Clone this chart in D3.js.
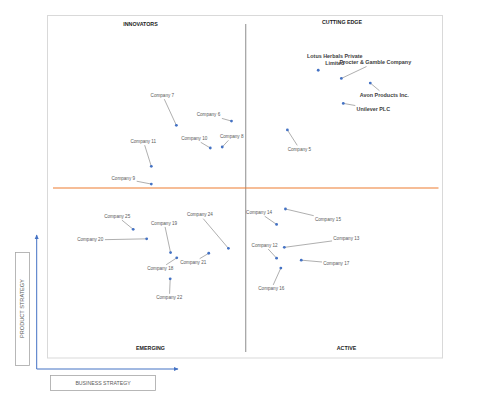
<!DOCTYPE html>
<html>
<head>
<meta charset="utf-8">
<script src="https://cdn.jsdelivr.net/npm/d3@7"></script>
<style>
  body { margin: 0; background: #fff; }
  text { font-family: "Liberation Sans", Arial, sans-serif; }
</style>
</head>
<body>
<div id="chart"></div>
<script>
// companies and their (business strategy, product strategy) scores, 0..10
const companies = ["Lotus Herbals Private Limited", "Procter & Gamble Company", "Avon Products Inc.", "Unilever PLC",
  "Company 5", "Company 6", "Company 7", "Company 8", "Company 9", "Company 10", "Company 11",
  "Company 12", "Company 13", "Company 14", "Company 15", "Company 16", "Company 17",
  "Company 18", "Company 19", "Company 20", "Company 21", "Company 22", "Company 24", "Company 25"];
const businessScore = [6.88, 7.48, 8.23, 7.53,
  6.08, 4.63, 3.20, 4.39, 2.55, 4.08, 2.55,
  5.80, 6.00, 5.80, 6.03, 5.91, 6.44,
  3.21, 3.05, 2.43, 4.04, 3.04, 4.55, 2.08];
const productScore = [8.59, 8.34, 8.20, 7.58,
  6.77, 7.04, 6.91, 6.25, 5.12, 6.22, 5.66,
  2.86, 3.19, 3.89, 4.36, 2.56, 2.80,
  2.87, 3.03, 3.45, 3.01, 2.23, 3.16, 3.74];
const majorPlayers = ["Lotus Herbals Private Limited", "Procter & Gamble Company", "Avon Products Inc.", "Unilever PLC"];
const quadrantLabels = ["INNOVATORS", "CUTTING EDGE", "EMERGING", "ACTIVE"];
const axisTitles = ["BUSINESS STRATEGY", "PRODUCT STRATEGY"];

// label placement relative to each point (pixels), hand tuned
const labelOffset = {
  "Lotus Herbals Private Limited": [16.5, -14.5, false],
  "Procter & Gamble Company": [34, -16, true],
  "Avon Products Inc.": [14, 12, true],
  "Unilever PLC": [30, 5.5, true],
  "Company 5": [12, 19, true],
  "Company 6": [-23, -6.5, true],
  "Company 7": [-14, -30, true],
  "Company 8": [9.5, -10.5, true],
  "Company 9": [-28, -5.5, true],
  "Company 10": [-16, -9.5, true],
  "Company 11": [-8, -25, true],
  "Company 12": [-12, -13, true],
  "Company 13": [62, -8.5, true],
  "Company 14": [-17.5, -12, true],
  "Company 15": [42.5, 10, true],
  "Company 16": [-9.5, 20.5, true],
  "Company 17": [35, 3, true],
  "Company 18": [-16.5, 10.5, true],
  "Company 19": [-6.5, -29.5, true],
  "Company 20": [-56.5, 1, true],
  "Company 21": [-15.5, 9, true],
  "Company 22": [-1, 18.5, true],
  "Company 24": [-28.5, -33.5, true],
  "Company 25": [-16, -13, true]
};

const data = companies.map((c, i) => ({name: c, x: businessScore[i], y: productScore[i], major: majorPlayers.includes(c)}));

const width = 478, height = 394;
const svg = d3.select("#chart").append("svg")
  .attr("width", width)
  .attr("height", height);

const x = d3.scaleLinear().domain([0, 10]).range([53, 438.5]);
const y = d3.scaleLinear().domain([0, 10]).range([352, 24]);

// outer frame
svg.append("rect")
  .attr("x", 47.5).attr("y", 15.5)
  .attr("width", 395).attr("height", 342.5)
  .attr("fill", "none").attr("stroke", "#d9d9d9").attr("stroke-width", 1);

// quadrant dividers
svg.append("line")
  .attr("x1", x(5)).attr("x2", x(5))
  .attr("y1", y.range()[1]).attr("y2", y.range()[0])
  .attr("stroke", "#8c8c8c").attr("stroke-width", 1);
svg.append("line")
  .attr("x1", x.range()[0]).attr("x2", x.range()[1])
  .attr("y1", y(5)).attr("y2", y(5))
  .attr("stroke", "#ED7D31").attr("stroke-width", 1.2);

// quadrant titles
const quadPos = [[140.5, 24], [342, 22], [150.5, 348], [346.5, 348.5]];
svg.selectAll(".quad")
  .data(quadrantLabels)
  .enter().append("text")
  .attr("x", (d, i) => quadPos[i][0])
  .attr("y", (d, i) => quadPos[i][1])
  .attr("dy", "0.35em")
  .attr("text-anchor", "middle")
  .attr("font-size", 5.3)
  .attr("font-weight", "bold")
  .attr("fill", "#222")
  .text(d => d);

// labels first so we can measure them for the leader lines
const g = svg.append("g");
data.forEach(d => {
  const px = x(d.x), py = y(d.y);
  const off = labelOffset[d.name];
  const lx = px + off[0], ly = py + off[1];
  const fs = d.major ? 5.4 : 4.6;
  const t = g.append("text")
    .attr("x", lx).attr("y", ly)
    .attr("text-anchor", "middle")
    .attr("font-size", fs)
    .attr("font-weight", d.major ? "bold" : "normal")
    .attr("fill", d.major ? "#404040" : "#595959");
  if (d.name.startsWith("Lotus")) {
    t.append("tspan").attr("x", lx).attr("dy", "0.35em").text("Lotus Herbals Private");
    t.append("tspan").attr("x", lx).attr("dy", "1.35em").text("Limited");
  } else {
    t.attr("dy", "0.35em").text(d.name);
  }
  if (!off[2]) return;
  const bb = t.node().getBBox();
  const pad = 1.2;
  const x0 = bb.x - pad, x1 = bb.x + bb.width + pad, y0 = bb.y - pad, y1 = bb.y + bb.height + pad;
  // clip segment point -> label centre to the label box
  const cx = bb.x + bb.width / 2, cy = bb.y + bb.height / 2;
  const vx = px - cx, vy = py - cy;
  let tt = Infinity;
  if (vx !== 0) tt = Math.min(tt, Math.abs((vx > 0 ? x1 - cx : cx - x0) / vx));
  if (vy !== 0) tt = Math.min(tt, Math.abs((vy > 0 ? y1 - cy : cy - y0) / vy));
  g.insert("line", "text")
    .attr("x1", cx + vx * tt).attr("y1", cy + vy * tt)
    .attr("x2", px).attr("y2", py)
    .attr("stroke", "#8c8c8c").attr("stroke-width", 0.7);
});

// points
svg.selectAll(".pt")
  .data(data)
  .enter().append("circle")
  .attr("cx", d => x(d.x))
  .attr("cy", d => y(d.y))
  .attr("r", 1.4)
  .attr("fill", "#4472C4");

// axis arrows
const defs = svg.append("defs");
defs.append("marker")
  .attr("id", "arr")
  .attr("viewBox", "0 0 10 10")
  .attr("refX", 8).attr("refY", 5)
  .attr("markerWidth", 5).attr("markerHeight", 5)
  .attr("orient", "auto")
  .append("path").attr("d", "M0,1 L9,5 L0,9 Z").attr("fill", "#4472C4");

svg.append("line")
  .attr("x1", 36.7).attr("y1", 369).attr("x2", 36.7).attr("y2", 235)
  .attr("stroke", "#4472C4").attr("stroke-width", 1).attr("marker-end", "url(#arr)");
svg.append("line")
  .attr("x1", 36.7).attr("y1", 369).attr("x2", 178).attr("y2", 369)
  .attr("stroke", "#4472C4").attr("stroke-width", 1).attr("marker-end", "url(#arr)");

// axis title boxes
svg.append("rect")
  .attr("x", 15.5).attr("y", 252.5).attr("width", 14).attr("height", 113)
  .attr("fill", "#fff").attr("stroke", "#a6a6a6").attr("stroke-width", 0.8);
svg.append("text")
  .attr("transform", "translate(22.5,308.5) rotate(-90)")
  .attr("text-anchor", "middle").attr("dy", "0.35em")
  .attr("font-size", 5.6).attr("fill", "#595959")
  .text(axisTitles[1]);

svg.append("rect")
  .attr("x", 50.5).attr("y", 375.5).attr("width", 105).attr("height", 15)
  .attr("fill", "#fff").attr("stroke", "#a6a6a6").attr("stroke-width", 0.8);
svg.append("text")
  .attr("x", 103).attr("y", 383)
  .attr("text-anchor", "middle").attr("dy", "0.35em")
  .attr("font-size", 5.2).attr("fill", "#595959")
  .text(axisTitles[0]);
</script>
</body>
</html>
